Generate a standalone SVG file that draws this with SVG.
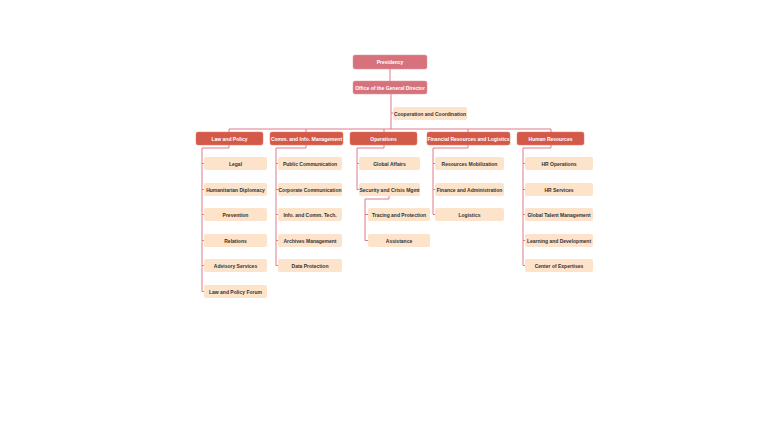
<svg xmlns="http://www.w3.org/2000/svg" width="768" height="432" viewBox="0 0 768 432">
<style>
.top{fill:#d7727c;stroke:#e3949b;stroke-width:0.5}
.l1{fill:#d35a48;stroke:#e07d6e;stroke-width:0.5}
.leaf{fill:#fde3c9}
.wt{fill:#fff;font:bold 5px "Liberation Sans",Arial,sans-serif;text-anchor:middle;dominant-baseline:central}
.dt{fill:#333;font:bold 5px "Liberation Sans",Arial,sans-serif;text-anchor:middle;dominant-baseline:central}
.ln{fill:none;stroke:#e07b8a;stroke-width:1}
</style>
<rect width="768" height="432" fill="#fff"/>
<g id="connectors" class="ln">
<path d="M390 69V81"/>
<path d="M391 94V129M391 113H393"/>
<path d="M229 132V129H551V132M306 129V132M384 129V132M468 129V132"/>
<path d="M229 145V148H202V291.5H204M202 163.5H204M202 189.5H204M202 214.5H204M202 240.5H204M202 265.5H204"/>
<path d="M306 145V148H276V265.5H278M276 163.5H278M276 189.5H278M276 214.5H278M276 240.5H278"/>
<path d="M384 145V148H357V189.5H359M357 163.5H359"/>
<path d="M389 196V199H365V240.5H368M365 214.5H368"/>
<path d="M468 145V148H433V214.5H435M433 163.5H435M433 189.5H435"/>
<path d="M551 145V148H523V265.5H525M523 163.5H525M523 189.5H525M523 214.5H525M523 240.5H525"/>
</g>
<g id="presidency"><rect class="top" x="353" y="55" width="74" height="14" rx="2"/><text class="wt" x="390" y="62">Presidency</text></g>
<g id="office"><rect class="top" x="353" y="81" width="74" height="13" rx="2"/><text class="wt" x="390" y="87.5">Office of the General Director</text></g>
<g id="coord"><rect class="leaf" x="393" y="107" width="74" height="13" rx="2"/><text class="dt" x="430" y="113.5">Cooperation and Coordination</text></g>
<g id="law"><rect class="l1" x="196" y="132" width="67" height="13" rx="2"/><text class="wt" x="229.5" y="138.5">Law and Policy</text></g>
<g id="comm"><rect class="l1" x="270" y="132" width="73" height="13" rx="2"/><text class="wt" x="306.5" y="138.5">Comm. and Info. Management</text></g>
<g id="ops"><rect class="l1" x="350" y="132" width="67" height="13" rx="2"/><text class="wt" x="383.5" y="138.5">Operations</text></g>
<g id="fin"><rect class="l1" x="427" y="132" width="83" height="13" rx="2"/><text class="wt" x="468.5" y="138.5">Financial Resources and Logistics</text></g>
<g id="hr"><rect class="l1" x="517" y="132" width="67" height="13" rx="2"/><text class="wt" x="550.5" y="138.5">Human Resources</text></g>
<g id="legal"><rect class="leaf" x="204" y="157" width="63" height="13" rx="2"/><text class="dt" x="235.5" y="163.5">Legal</text></g>
<g id="hd"><rect class="leaf" x="204" y="183" width="63" height="13" rx="2"/><text class="dt" x="235.5" y="189.5">Humanitarian Diplomacy</text></g>
<g id="prev"><rect class="leaf" x="204" y="208" width="63" height="13" rx="2"/><text class="dt" x="235.5" y="214.5">Prevention</text></g>
<g id="rel"><rect class="leaf" x="204" y="234" width="63" height="13" rx="2"/><text class="dt" x="235.5" y="240.5">Relations</text></g>
<g id="adv"><rect class="leaf" x="204" y="259" width="63" height="13" rx="2"/><text class="dt" x="235.5" y="265.5">Advisory Services</text></g>
<g id="lpf"><rect class="leaf" x="204" y="285" width="63" height="13" rx="2"/><text class="dt" x="235.5" y="291.5">Law and Policy Forum</text></g>
<g id="pc"><rect class="leaf" x="278" y="157" width="64" height="13" rx="2"/><text class="dt" x="310" y="163.5">Public Communication</text></g>
<g id="cc"><rect class="leaf" x="278" y="183" width="64" height="13" rx="2"/><text class="dt" x="310" y="189.5">Corporate Communication</text></g>
<g id="ict"><rect class="leaf" x="278" y="208" width="64" height="13" rx="2"/><text class="dt" x="310" y="214.5">Info. and Comm. Tech.</text></g>
<g id="am"><rect class="leaf" x="278" y="234" width="64" height="13" rx="2"/><text class="dt" x="310" y="240.5">Archives Management</text></g>
<g id="dp"><rect class="leaf" x="278" y="259" width="64" height="13" rx="2"/><text class="dt" x="310" y="265.5">Data Protection</text></g>
<g id="ga"><rect class="leaf" x="359" y="157" width="61" height="13" rx="2"/><text class="dt" x="389.5" y="163.5">Global Affairs</text></g>
<g id="scm"><rect class="leaf" x="359" y="183" width="61" height="13" rx="2"/><text class="dt" x="389.5" y="189.5">Security and Crisis Mgmt</text></g>
<g id="tp"><rect class="leaf" x="368" y="208" width="62" height="13" rx="2"/><text class="dt" x="399" y="214.5">Tracing and Protection</text></g>
<g id="asst"><rect class="leaf" x="368" y="234" width="62" height="13" rx="2"/><text class="dt" x="399" y="240.5">Assistance</text></g>
<g id="rm"><rect class="leaf" x="435" y="157" width="69" height="13" rx="2"/><text class="dt" x="469.5" y="163.5">Resources Mobilization</text></g>
<g id="fa"><rect class="leaf" x="435" y="183" width="69" height="13" rx="2"/><text class="dt" x="469.5" y="189.5">Finance and Administration</text></g>
<g id="log"><rect class="leaf" x="435" y="208" width="69" height="13" rx="2"/><text class="dt" x="469.5" y="214.5">Logistics</text></g>
<g id="hro"><rect class="leaf" x="525" y="157" width="68" height="13" rx="2"/><text class="dt" x="559" y="163.5">HR Operations</text></g>
<g id="hrs"><rect class="leaf" x="525" y="183" width="68" height="13" rx="2"/><text class="dt" x="559" y="189.5">HR Services</text></g>
<g id="gtm"><rect class="leaf" x="525" y="208" width="68" height="13" rx="2"/><text class="dt" x="559" y="214.5">Global Talent Management</text></g>
<g id="ld"><rect class="leaf" x="525" y="234" width="68" height="13" rx="2"/><text class="dt" x="559" y="240.5">Learning and Development</text></g>
<g id="coe"><rect class="leaf" x="525" y="259" width="68" height="13" rx="2"/><text class="dt" x="559" y="265.5">Center of Expertises</text></g>
</svg>
